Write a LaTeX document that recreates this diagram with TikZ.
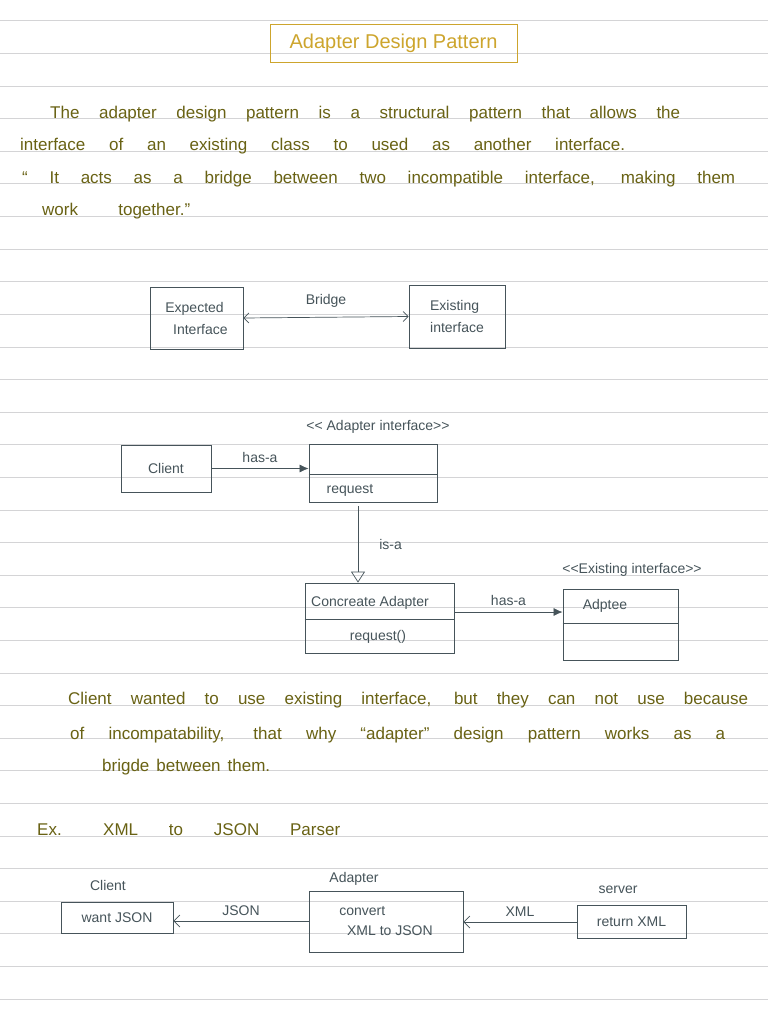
\documentclass[tikz,border=0pt]{standalone}
\usepackage{fontspec}
\setmainfont{Liberation Sans}
\usetikzlibrary{arrows.meta}
\definecolor{ink}{RGB}{105,98,20}
\definecolor{gold}{RGB}{205,165,45}
\definecolor{pen}{RGB}{70,84,90}
\definecolor{rule}{RGB}{212,212,214}
\newcommand{\sline}[2]{\makebox[#1pt][s]{#2}}
\newcommand{\dlt}{<\kern0pt<}
\newcommand{\dgt}{>\kern0pt>}
\begin{document}
\begin{tikzpicture}[x=1pt,y=-1pt,
  txt/.style={text=ink,font=\fontsize{17}{17}\selectfont,anchor=base west,inner sep=0pt},
  dtxt/.style={text=pen,font=\fontsize{14}{14}\selectfont,inner sep=1pt},
  box/.style={draw=pen,line width=0.8pt},
  conn/.style={draw=pen,line width=0.7pt}]
\useasboundingbox (0,0) rectangle (768,1024);
\fill[white] (0,0) rectangle (768,1024);
\foreach \k in {0,...,30} \draw[rule,line width=1pt] (0,{21+32.6*\k}) -- (768,{21+32.6*\k});
% title
\node[draw=gold,line width=0.8pt,minimum width=247pt,minimum height=38pt,text=gold,font=\fontsize{20}{20}\selectfont] (title) at (393.5,43) {Adapter Design Pattern};
% paragraph 1
\node[txt] (p1) at (50,119) {\sline{630}{The adapter design pattern is a structural pattern that allows the}};
\node[txt] (p2) at (20,151) {\sline{605}{interface of an existing class to used as another interface.}};
\node[txt] (p3) at (22,184) {\sline{713}{“ It acts as a bridge between two incompatible interface, making them}};
\node[txt] (p4) at (42,216) {\sline{148}{work together.”}};
% bridge
\node[box,minimum width=93pt,minimum height=62pt,align=left,dtxt] (exp) at (196.5,318) {Expected\\[8pt]\ \ Interface};
\node[box,minimum width=96pt,minimum height=63pt,align=left,dtxt] (exi) at (457,316.5) {Existing\\[8pt]interface};
\draw[conn,{Straight Barb[length=5pt]}-{Straight Barb[length=5pt]}] (exp.east) -- node[above=8pt,dtxt]{Bridge} (exi.west);
% adapter interface
\node[box,minimum width=128pt,minimum height=58pt] (ai) at (373,473) {};
\draw[conn] (ai.west|-0,474) -- (ai.east|-0,474);
\node[dtxt] (aireq) at (350,490) {request};
\node[dtxt] (aist) at (378,427) {\dlt\ Adapter interface\dgt};
\node[box,minimum width=90pt,minimum height=47pt,dtxt] (cl) at (166,468.5) {Client};
\draw[conn,-{Latex[length=9pt,width=8pt]}] (cl.east) -- node[above=5pt,dtxt]{has-a} (ai.west|-cl.east);
% concrete adapter
\node[box,minimum width=149pt,minimum height=70pt] (ca) at (379.5,618) {};
\draw[conn] (ca.west|-0,619) -- (ca.east|-0,619);
\node[dtxt] at (370,603) {Concreate Adapter};
\node[dtxt] at (378,637) {request()};
\coordinate (isa) at (358,506);
\draw[conn,-{Triangle[open,length=11pt,width=14pt]}] (isa) -- node[right=20pt,dtxt]{is-a} (isa|-ca.north);
% adaptee
\node[box,minimum width=115pt,minimum height=71pt] (ad) at (620.5,624.5) {};
\draw[conn] (ad.west|-0,623) -- (ad.east|-0,623);
\node[dtxt] at (605,606) {Adptee};
\node[dtxt] at (632,570) {\dlt Existing interface\dgt};
\draw[conn,-{Latex[length=9pt,width=8pt]}] (ca.east|-0,612) -- node[above=5pt,dtxt]{has-a} (ad.west|-0,612);
% paragraph 2
\node[txt] (q1) at (68,704) {\sline{680}{Client wanted to use existing interface, but they can not use because}};
\node[txt] (q2) at (70,739) {\sline{655}{of incompatability, that why “adapter” design pattern works as a}};
\node[txt] (q3) at (102,771) {\sline{168}{brigde between them.}};
\node[txt] (ex) at (37,835) {Ex.};
\node[txt] (xj) at (103,835) {\sline{237}{XML to JSON Parser}};
% example
\node[box,minimum width=112pt,minimum height=31pt,dtxt] (c2) at (117,917.5) {want JSON};
\node[dtxt] at (108,885) {Client};
\node[box,minimum width=154pt,minimum height=61pt,align=left,dtxt] (ad2) at (386,921.5) {convert\\[6pt]\ \ XML to JSON};
\node[dtxt] at (354,879) {Adapter};
\node[box,minimum width=109pt,minimum height=33pt,dtxt] (sv) at (631.5,921.5) {return XML};
\node[dtxt] at (618,890) {server};
\draw[conn,-{Straight Barb[length=6pt]}] (ad2.west|-0,921) -- node[above=4pt,dtxt]{JSON} (c2.east|-0,921);
\draw[conn,-{Straight Barb[length=6pt]}] (sv.west|-0,922) -- node[above=4pt,dtxt]{XML} (ad2.east|-0,922);
\end{tikzpicture}
\end{document}
